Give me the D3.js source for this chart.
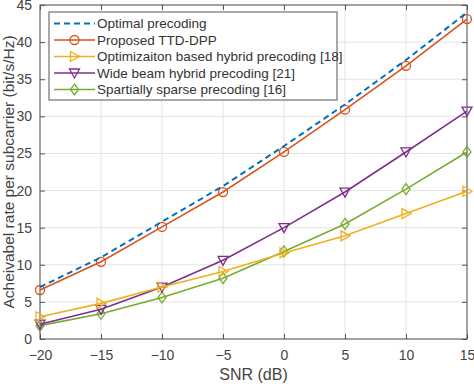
<!DOCTYPE html>
<html>
<head>
<meta charset="utf-8">
<script src="https://cdn.jsdelivr.net/npm/d3@7"></script>
<style>
  body { margin: 0; background: #fff; }
  svg { font-family: "Liberation Sans", Arial, sans-serif; }
</style>
</head>
<body>
<script>
// SNR points and rates
var snr = [-20, -15, -10, -5, 0, 5, 10, 15];
var optimal   = [7.0, 11.0, 15.8, 20.6, 26.0, 31.6, 37.6, 44.0];
var proposed  = [6.6, 10.4, 15.1, 19.8, 25.2, 30.9, 36.8, 43.1];
var optimBased = [3.0, 4.8, 7.0, 9.1, 11.6, 13.9, 16.9, 19.9];
var wideBeam  = [2.0, 4.0, 7.0, 10.6, 15.0, 19.8, 25.2, 30.7];
var sparse    = [1.8, 3.4, 5.6, 8.2, 11.8, 15.5, 20.2, 25.2];
var xTicks = [-20, -15, -10, -5, 0, 5, 10, 15];
var yTicks = [0, 5, 10, 15, 20, 25, 30, 35, 40, 45];

var series = [
  {name: "Optimal precoding", values: optimal, color: "#0072BD", marker: "none", dash: "6,4"},
  {name: "Proposed TTD-DPP", values: proposed, color: "#D95319", marker: "circle"},
  {name: "Optimizaiton based hybrid precoding [18]", values: optimBased, color: "#EDB120", marker: "right"},
  {name: "Wide beam hybrid precoding [21]", values: wideBeam, color: "#7E2F8E", marker: "down"},
  {name: "Spartially sparse precoding [16]", values: sparse, color: "#77AC30", marker: "diamond"}
];

var W = 474, H = 384;
var margin = {left: 40, right: 7, top: 5, bottom: 45};
var width = W - margin.left - margin.right,
    height = H - margin.top - margin.bottom;

var svg = d3.select("body").append("svg")
    .attr("width", W).attr("height", H);
var g = svg.append("g")
    .attr("transform", "translate(" + margin.left + "," + margin.top + ")");

var x = d3.scaleLinear().domain([-20, 15]).range([0, width]);
var y = d3.scaleLinear().domain([0, 45]).range([height, 0]);

// grid
g.append("g").selectAll("line").data(xTicks).enter().append("line")
    .attr("x1", d => x(d)).attr("x2", d => x(d))
    .attr("y1", 0).attr("y2", height)
    .attr("stroke", "#e3e3e3").attr("stroke-width", 1);
g.append("g").selectAll("line").data(yTicks).enter().append("line")
    .attr("y1", d => y(d)).attr("y2", d => y(d))
    .attr("x1", 0).attr("x2", width)
    .attr("stroke", "#e3e3e3").attr("stroke-width", 1);

// axes (ticks inward, box on)
var axisColor = "#555";
function styleAxis(sel) {
  sel.select(".domain").remove();
  sel.selectAll(".tick line").attr("stroke", axisColor);
  sel.selectAll(".tick text").attr("fill", "#444").style("font-size", "14px");
}
g.append("g").attr("transform", "translate(0," + height + ")")
    .call(d3.axisBottom(x).tickValues(xTicks).tickSize(-5).tickPadding(11))
    .call(styleAxis);
g.append("g")
    .call(d3.axisLeft(y).tickValues(yTicks).tickSize(-5).tickPadding(8))
    .call(styleAxis);
g.append("g")
    .call(d3.axisTop(x).tickValues(xTicks).tickSize(-5).tickFormat(""))
    .call(styleAxis);
g.append("g").attr("transform", "translate(" + width + ",0)")
    .call(d3.axisRight(y).tickValues(yTicks).tickSize(-5).tickFormat(""))
    .call(styleAxis);
g.append("rect").attr("width", width).attr("height", height)
    .attr("fill", "none").attr("stroke", axisColor).attr("stroke-width", 1);

// markers
function drawMarker(sel, type, color) {
  if (type === "circle") {
    sel.append("circle").attr("r", 4.5).attr("fill", "none").attr("stroke", color).attr("stroke-width", 1.3);
  } else if (type === "right") {
    sel.append("path").attr("d", "M-4,-5L5,0L-4,5Z").attr("fill", "none").attr("stroke", color).attr("stroke-width", 1.3);
  } else if (type === "down") {
    sel.append("path").attr("d", "M-5,-4L5,-4L0,5Z").attr("fill", "none").attr("stroke", color).attr("stroke-width", 1.3);
  } else if (type === "diamond") {
    sel.append("path").attr("d", "M0,-5.5L4,0L0,5.5L-4,0Z").attr("fill", "none").attr("stroke", color).attr("stroke-width", 1.3);
  }
}

var line = d3.line().x((d, i) => x(snr[i])).y(d => y(d));

// draw in reverse so optimal sits on top like the source
series.slice().reverse().forEach(function(s) {
  g.append("path").datum(s.values)
    .attr("d", line)
    .attr("fill", "none")
    .attr("stroke", s.color)
    .attr("stroke-width", s.marker === "none" ? 2 : 1.6)
    .attr("stroke-dasharray", s.dash || null);
  if (s.marker !== "none") {
    g.selectAll(null).data(s.values).enter().append("g")
      .attr("transform", (d, i) => "translate(" + x(snr[i]) + "," + y(d) + ")")
      .each(function() { drawMarker(d3.select(this), s.marker, s.color); });
  }
});

// legend
var leg = svg.append("g").attr("transform", "translate(49,12)");
leg.append("rect").attr("width", 288).attr("height", 88)
    .attr("fill", "#fff").attr("stroke", axisColor).attr("stroke-width", 1);
series.forEach(function(s, i) {
  var row = leg.append("g").attr("transform", "translate(0," + (11.5 + i * 16.5) + ")");
  row.append("line").attr("x1", 5).attr("x2", 46).attr("y1", 0).attr("y2", 0)
    .attr("stroke", s.color).attr("stroke-width", s.marker === "none" ? 2 : 1.6)
    .attr("stroke-dasharray", s.dash || null);
  if (s.marker !== "none") {
    var m = row.append("g").attr("transform", "translate(25.5,0)");
    drawMarker(m, s.marker, s.color);
  }
  row.append("text").attr("x", 48).attr("y", 0).attr("dy", "0.35em")
    .attr("fill", "#333").style("font-size", "13.5px").text(s.name);
});

// axis labels
svg.append("text")
    .attr("x", margin.left + width / 2).attr("y", 380)
    .attr("text-anchor", "middle").attr("fill", "#444").style("font-size", "16px")
    .text("SNR (dB)");
svg.append("text")
    .attr("transform", "translate(14," + (margin.top + height / 2) + ") rotate(-90)")
    .attr("text-anchor", "middle").attr("fill", "#444").style("font-size", "15.5px")
    .text("Acheivabel rate per subcarrier (bit/s/Hz)");
</script>
</body>
</html>
